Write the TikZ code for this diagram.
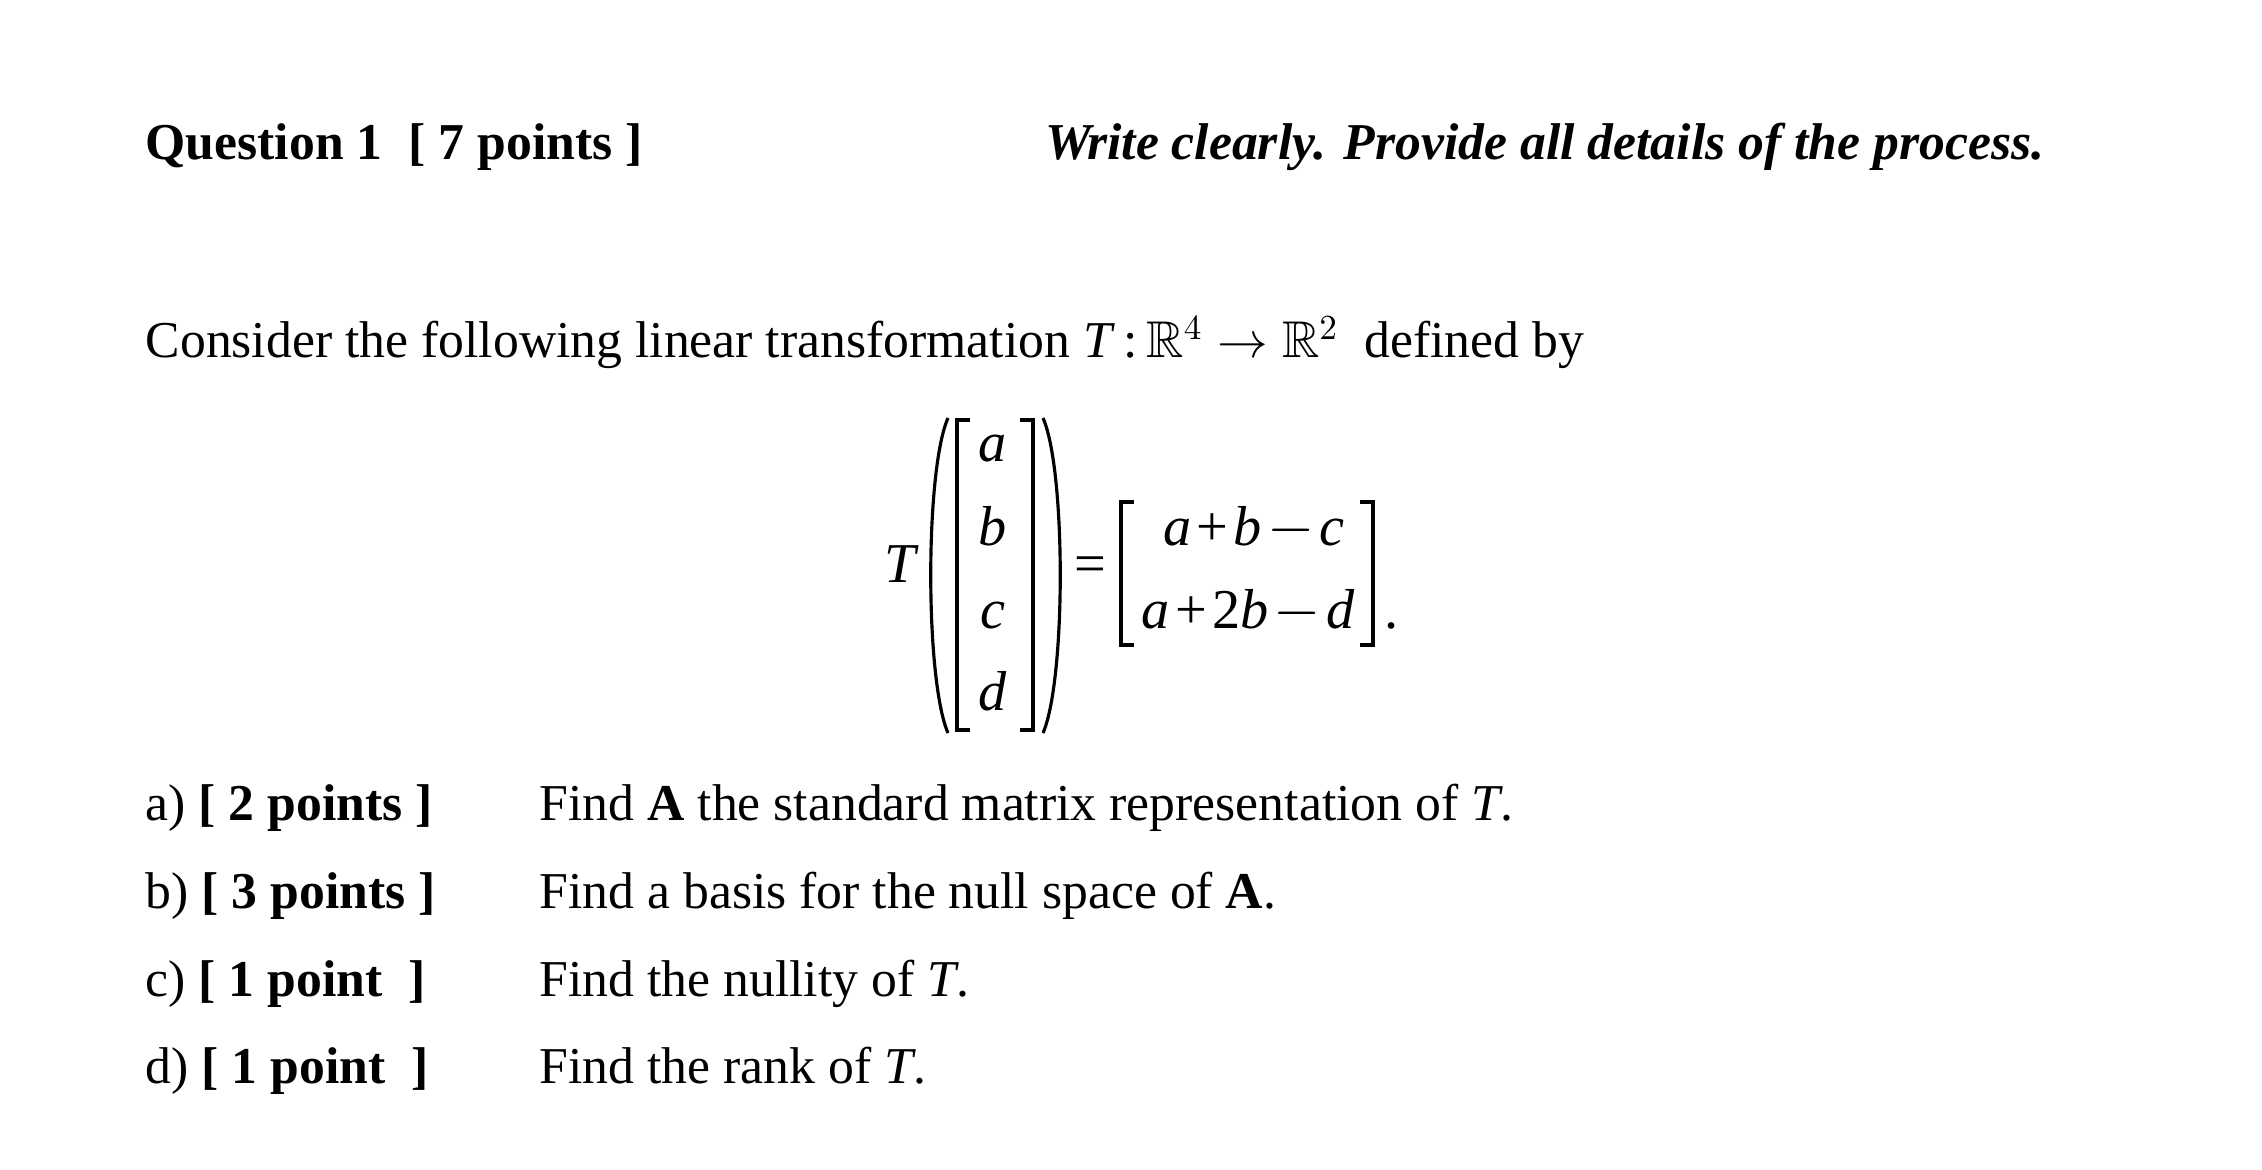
\documentclass[tikz,border=0pt]{standalone}
\usepackage{amssymb}
\usepackage{fontspec}
\setmainfont{Liberation Serif}
\begin{document}
\begin{tikzpicture}[x=0.01cm,y=-0.01cm,
  txt/.style={anchor=base west,inner sep=0pt,font=\fontsize{14.7}{18}\selectfont},
  mat/.style={anchor=base,inner sep=0pt,font=\fontsize{16}{20}\selectfont},
  brk/.style={line width=0.9pt}]
\useasboundingbox (0,0) rectangle (2262,1170);
\node[txt] (q) at (145,160) {\textbf{Question 1\ \ [ 7 points ]}};
\node[txt,anchor=base east] (w) at (2045,160) {\textbf{\textit{Write clearly. Provide all details of the process.}}};
\node[txt] (c) at (145,358) {Consider the following linear transformation \textit{T}\,:\,$\mathbb{R}^4\rightarrow\mathbb{R}^2$\ \ defined by};
% matrix
\node[mat] (T) at (902,583) {\textit{T}};
\node[mat] (va) at (993,462) {\textit{a}};
\node[mat] (vb) at (993,545) {\textit{b}};
\node[mat] (vc) at (993,628) {\textit{c}};
\node[mat] (vd) at (993,710) {\textit{d}};
\draw[brk] (970,420) -- (957,420) -- (957,730) -- (970,730);
\draw[brk] (1020,420) -- (1033,420) -- (1033,730) -- (1020,730);
\draw[brk] (948,418) .. controls (925,470) and (925,680) .. (948,733);
\draw[brk] (1043,418) .. controls (1066,470) and (1066,680) .. (1043,733);
\node[mat] (eq) at (1090,583) {=};
\node[mat] (r1) at (1254,545) {\textit{a}\kern1.5pt+\kern1.5pt\textit{b}\kern1.5pt$-$\kern1.5pt\textit{c}};
\node[mat] (r2) at (1248,628) {\textit{a}\kern1.5pt+\kern1.5pt2\textit{b}\kern1.5pt$-$\kern1.5pt\textit{d}};
\draw[brk] (1134,502) -- (1121,502) -- (1121,645) -- (1134,645);
\draw[brk] (1360,502) -- (1373,502) -- (1373,645) -- (1360,645);
\node[mat] (dot) at (1392,628) {.};
% items
\node[txt] (a1) at (145,820) {a) \textbf{[ 2 points ]}};
\node[txt] (a2) at (539,820) {Find \textbf{A} the standard matrix representation of \textit{T}.};
\node[txt] (b1) at (145,908) {b) \textbf{[ 3 points ]}};
\node[txt] (b2) at (539,908) {Find a basis for the null space of \textbf{A}.};
\node[txt] (c1) at (145,996) {c) \textbf{[ 1 point\ \ ]}};
\node[txt] (c2) at (539,996) {Find the nullity of \textit{T}.};
\node[txt] (d1) at (145,1083) {d) \textbf{[ 1 point\ \ ]}};
\node[txt] (d2) at (539,1083) {Find the rank of \textit{T}.};
\end{tikzpicture}
\end{document}
